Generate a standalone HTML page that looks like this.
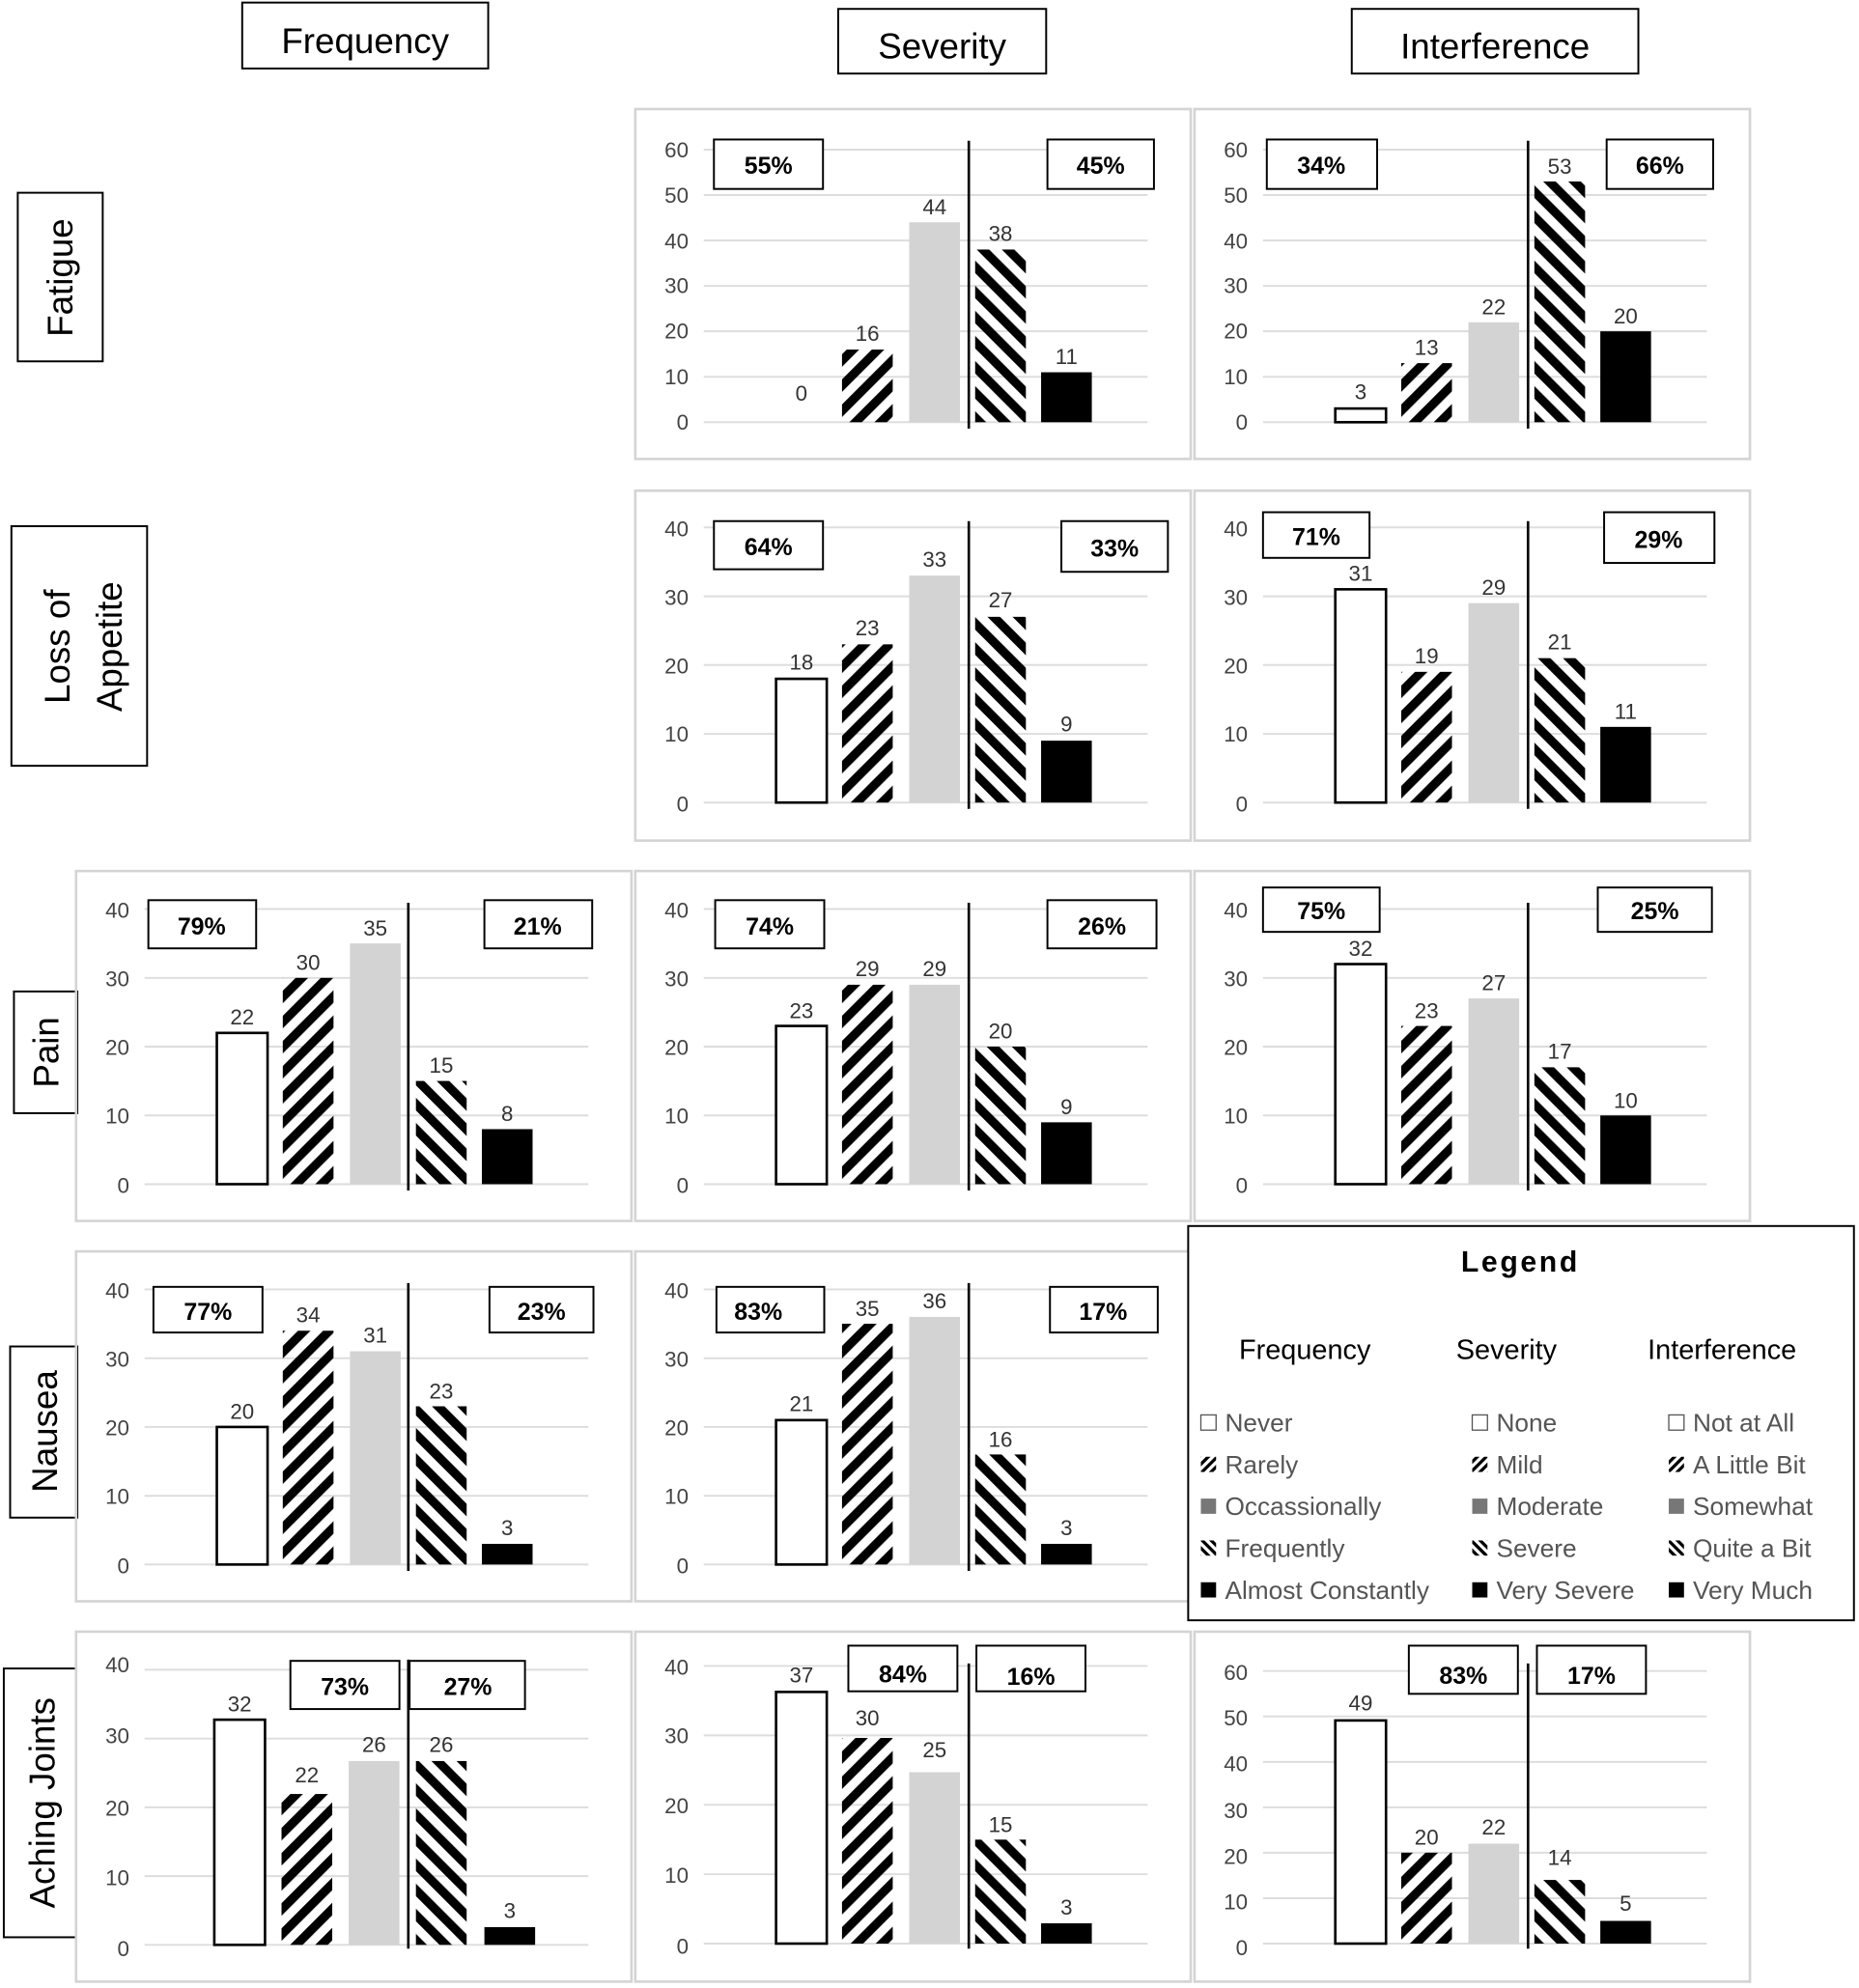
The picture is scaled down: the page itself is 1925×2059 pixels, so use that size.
<!DOCTYPE html>
<html><head><meta charset="utf-8"><style>
html,body{margin:0;padding:0;background:#fff}
svg{display:block}
text{font-family:"Liberation Sans","DejaVu Sans",sans-serif}
.t{font-size:17px;fill:#444}
.l{font-size:17px;fill:#333;text-anchor:middle}
.p{font-size:19px;font-weight:bold;text-anchor:middle;fill:#000}
.lg{font-size:20px;fill:#555}
.h{font-size:28px;text-anchor:middle;fill:#000}
</style></head><body>
<svg width="1925" height="2059" viewBox="0 0 1466 1568" xmlns="http://www.w3.org/2000/svg">
<defs>
<pattern id="fw" width="14" height="14" patternUnits="userSpaceOnUse" patternTransform="rotate(45)"><rect width="7" height="14" fill="#000"/></pattern>
<pattern id="bk" width="14" height="14" patternUnits="userSpaceOnUse" patternTransform="rotate(-45)"><rect width="7" height="14" fill="#000"/></pattern>
<pattern id="fws" width="5" height="5" patternUnits="userSpaceOnUse" patternTransform="rotate(45)"><rect width="2.5" height="5" fill="#000"/></pattern>
<pattern id="bks" width="5" height="5" patternUnits="userSpaceOnUse" patternTransform="rotate(-45)"><rect width="2.5" height="5" fill="#000"/></pattern>
</defs>
<rect width="1466" height="1568" fill="#fff"/>

<!-- headers -->
<rect x="191" y="2" width="194" height="52" fill="none" stroke="#000" stroke-width="1.5"/><text class="h" x="288" y="42">Frequency</text>
<rect x="661" y="7" width="164" height="51" fill="none" stroke="#000" stroke-width="1.5"/><text class="h" x="743" y="46">Severity</text>
<rect x="1066" y="7" width="226" height="51" fill="none" stroke="#000" stroke-width="1.5"/><text class="h" x="1179" y="46">Interference</text>

<!-- row labels -->
<rect x="14" y="152" width="67" height="133" fill="none" stroke="#000" stroke-width="1.5"/><text class="h" transform="translate(57,219) rotate(-90)">Fatigue</text>
<rect x="9" y="415" width="107" height="189" fill="none" stroke="#000" stroke-width="1.5"/><text class="h" transform="translate(55,510) rotate(-90)">Loss of</text><text class="h" transform="translate(96,510) rotate(-90)">Appetite</text>
<rect x="11" y="782" width="50" height="96" fill="none" stroke="#000" stroke-width="1.5"/><text class="h" transform="translate(46,830) rotate(-90)">Pain</text>
<rect x="8" y="1062" width="53" height="135" fill="none" stroke="#000" stroke-width="1.5"/><text class="h" transform="translate(45,1129) rotate(-90)">Nausea</text>
<rect x="3" y="1316" width="57" height="212" fill="none" stroke="#000" stroke-width="1.5"/><text class="h" transform="translate(43,1422) rotate(-90)">Aching Joints</text>

<!-- PANEL TEMPLATE: scale60 k=3.583, scale40 k=5.425 -->
<!-- Row1 col2 Severity Fatigue -->
<g transform="translate(501,86)">
<rect x="0" y="0" width="438" height="276" fill="none" stroke="#d4d4d4" stroke-width="2"/>
<g stroke="#ddd" stroke-width="1.5"><line x1="54" x2="404" y1="247" y2="247"/><line x1="54" x2="404" y1="211.2" y2="211.2"/><line x1="54" x2="404" y1="175.3" y2="175.3"/><line x1="54" x2="404" y1="139.5" y2="139.5"/><line x1="54" x2="404" y1="103.7" y2="103.7"/><line x1="54" x2="404" y1="67.8" y2="67.8"/><line x1="54" x2="404" y1="32" y2="32"/></g>
<g class="t" text-anchor="end"><text x="42" y="253">0</text><text x="42" y="217">10</text><text x="42" y="181">20</text><text x="42" y="145">30</text><text x="42" y="110">40</text><text x="42" y="74">50</text><text x="42" y="38">60</text></g>
<rect x="163" y="189.7" width="40" height="57.3" fill="url(#fw)"/>
<rect x="216" y="89.3" width="40" height="157.7" fill="#d3d3d3"/>
<rect x="268" y="110.8" width="40" height="136.2" fill="url(#bk)"/>
<rect x="320" y="207.6" width="40" height="39.4" fill="#000"/>
<g class="l"><text x="131" y="230">0</text><text x="183" y="183">16</text><text x="236" y="83">44</text><text x="288" y="104">38</text><text x="340" y="201">11</text></g>
<line x1="263" x2="263" y1="25" y2="252" stroke="#000" stroke-width="2"/>
<rect x="62" y="24" width="86" height="39" fill="#fff" stroke="#000" stroke-width="1.5"/><text class="p" x="105" y="51">55%</text>
<rect x="325" y="24" width="84" height="39" fill="#fff" stroke="#000" stroke-width="1.5"/><text class="p" x="367" y="51">45%</text>
</g>

<!-- Row1 col3 Interference Fatigue -->
<g transform="translate(942,86)">
<rect x="0" y="0" width="438" height="276" fill="none" stroke="#d4d4d4" stroke-width="2"/>
<g stroke="#ddd" stroke-width="1.5"><line x1="54" x2="404" y1="247" y2="247"/><line x1="54" x2="404" y1="211.2" y2="211.2"/><line x1="54" x2="404" y1="175.3" y2="175.3"/><line x1="54" x2="404" y1="139.5" y2="139.5"/><line x1="54" x2="404" y1="103.7" y2="103.7"/><line x1="54" x2="404" y1="67.8" y2="67.8"/><line x1="54" x2="404" y1="32" y2="32"/></g>
<g class="t" text-anchor="end"><text x="42" y="253">0</text><text x="42" y="217">10</text><text x="42" y="181">20</text><text x="42" y="145">30</text><text x="42" y="110">40</text><text x="42" y="74">50</text><text x="42" y="38">60</text></g>
<rect x="111" y="236.2" width="40" height="10.8" fill="#fff" stroke="#000" stroke-width="2"/>
<rect x="163" y="200.4" width="40" height="46.6" fill="url(#fw)"/>
<rect x="216" y="168.2" width="40" height="78.8" fill="#d3d3d3"/>
<rect x="268" y="57.1" width="40" height="189.9" fill="url(#bk)"/>
<rect x="320" y="175.3" width="40" height="71.7" fill="#000"/>
<g class="l"><text x="131" y="229">3</text><text x="183" y="194">13</text><text x="236" y="162">22</text><text x="288" y="51">53</text><text x="340" y="169">20</text></g>
<line x1="263" x2="263" y1="25" y2="252" stroke="#000" stroke-width="2"/>
<rect x="57" y="24" width="87" height="39" fill="#fff" stroke="#000" stroke-width="1.5"/><text class="p" x="100" y="51">34%</text>
<rect x="325" y="24" width="84" height="39" fill="#fff" stroke="#000" stroke-width="1.5"/><text class="p" x="367" y="51">66%</text>
</g>

<!-- 40-scale grid snippet used below: y 247,192.75,138.5,84.25,30 -->
<!-- Row2 col2 -->
<g transform="translate(501,387)">
<rect x="0" y="0" width="438" height="276" fill="none" stroke="#d4d4d4" stroke-width="2"/>
<g stroke="#ddd" stroke-width="1.5"><line x1="54" x2="404" y1="246" y2="246"/><line x1="54" x2="404" y1="191.8" y2="191.8"/><line x1="54" x2="404" y1="137.5" y2="137.5"/><line x1="54" x2="404" y1="83.3" y2="83.3"/><line x1="54" x2="404" y1="29" y2="29"/></g>
<g class="t" text-anchor="end"><text x="42" y="253">0</text><text x="42" y="198">10</text><text x="42" y="144">20</text><text x="42" y="90">30</text><text x="42" y="36">40</text></g>
<rect x="111" y="148.4" width="40" height="97.6" fill="#fff" stroke="#000" stroke-width="2"/>
<rect x="163" y="121.2" width="40" height="124.8" fill="url(#fw)"/>
<rect x="216" y="67" width="40" height="179" fill="#d3d3d3"/>
<rect x="268" y="99.5" width="40" height="146.5" fill="url(#bk)"/>
<rect x="320" y="197.2" width="40" height="48.8" fill="#000"/>
<g class="l"><text x="131" y="141">18</text><text x="183" y="114">23</text><text x="236" y="60">33</text><text x="288" y="92">27</text><text x="340" y="190">9</text></g>
<line x1="263" x2="263" y1="24" y2="251" stroke="#000" stroke-width="2"/>
<rect x="62" y="24" width="86" height="38" fill="#fff" stroke="#000" stroke-width="1.5"/><text class="p" x="105" y="51">64%</text>
<rect x="336" y="24" width="84" height="40" fill="#fff" stroke="#000" stroke-width="1.5"/><text class="p" x="378" y="52">33%</text>
</g>

<!-- Row2 col3 -->
<g transform="translate(942,387)">
<rect x="0" y="0" width="438" height="276" fill="none" stroke="#d4d4d4" stroke-width="2"/>
<g stroke="#ddd" stroke-width="1.5"><line x1="54" x2="404" y1="246" y2="246"/><line x1="54" x2="404" y1="191.8" y2="191.8"/><line x1="54" x2="404" y1="137.5" y2="137.5"/><line x1="54" x2="404" y1="83.3" y2="83.3"/><line x1="54" x2="404" y1="29" y2="29"/></g>
<g class="t" text-anchor="end"><text x="42" y="253">0</text><text x="42" y="198">10</text><text x="42" y="144">20</text><text x="42" y="90">30</text><text x="42" y="36">40</text></g>
<rect x="111" y="77.8" width="40" height="168.2" fill="#fff" stroke="#000" stroke-width="2"/>
<rect x="163" y="142.9" width="40" height="103.1" fill="url(#fw)"/>
<rect x="216" y="88.7" width="40" height="157.3" fill="#d3d3d3"/>
<rect x="268" y="132.1" width="40" height="113.9" fill="url(#bk)"/>
<rect x="320" y="186.3" width="40" height="59.7" fill="#000"/>
<g class="l"><text x="131" y="71">31</text><text x="183" y="136">19</text><text x="236" y="82">29</text><text x="288" y="125">21</text><text x="340" y="180">11</text></g>
<line x1="263" x2="263" y1="24" y2="251" stroke="#000" stroke-width="2"/>
<rect x="54" y="17" width="84" height="36" fill="#fff" stroke="#000" stroke-width="1.5"/><text class="p" x="96" y="43">71%</text>
<rect x="323" y="17" width="87" height="40" fill="#fff" stroke="#000" stroke-width="1.5"/><text class="p" x="366" y="45">29%</text>
</g>

<!-- Row3 col1 Pain freq -->
<g transform="translate(60,687)">
<rect x="0" y="0" width="438" height="276" fill="none" stroke="#d4d4d4" stroke-width="2"/>
<g stroke="#ddd" stroke-width="1.5"><line x1="54" x2="404" y1="247" y2="247"/><line x1="54" x2="404" y1="192.8" y2="192.8"/><line x1="54" x2="404" y1="138.5" y2="138.5"/><line x1="54" x2="404" y1="84.3" y2="84.3"/><line x1="54" x2="404" y1="30" y2="30"/></g>
<g class="t" text-anchor="end"><text x="42" y="254">0</text><text x="42" y="199">10</text><text x="42" y="145">20</text><text x="42" y="91">30</text><text x="42" y="37">40</text></g>
<rect x="111" y="127.7" width="40" height="119.3" fill="#fff" stroke="#000" stroke-width="2"/>
<rect x="163" y="84.3" width="40" height="162.7" fill="url(#fw)"/>
<rect x="216" y="57.1" width="40" height="189.9" fill="#d3d3d3"/>
<rect x="268" y="165.6" width="40" height="81.4" fill="url(#bk)"/>
<rect x="320" y="203.6" width="40" height="43.4" fill="#000"/>
<g class="l"><text x="131" y="121">22</text><text x="183" y="78">30</text><text x="236" y="51">35</text><text x="288" y="159">15</text><text x="340" y="197">8</text></g>
<line x1="262" x2="262" y1="25" y2="252" stroke="#000" stroke-width="2"/>
<rect x="57" y="23" width="85" height="38" fill="#fff" stroke="#000" stroke-width="1.5"/><text class="p" x="99" y="50">79%</text>
<rect x="322" y="23" width="85" height="38" fill="#fff" stroke="#000" stroke-width="1.5"/><text class="p" x="364" y="50">21%</text>
</g>

<!-- Row3 col2 -->
<g transform="translate(501,687)">
<rect x="0" y="0" width="438" height="276" fill="none" stroke="#d4d4d4" stroke-width="2"/>
<g stroke="#ddd" stroke-width="1.5"><line x1="54" x2="404" y1="247" y2="247"/><line x1="54" x2="404" y1="192.8" y2="192.8"/><line x1="54" x2="404" y1="138.5" y2="138.5"/><line x1="54" x2="404" y1="84.3" y2="84.3"/><line x1="54" x2="404" y1="30" y2="30"/></g>
<g class="t" text-anchor="end"><text x="42" y="254">0</text><text x="42" y="199">10</text><text x="42" y="145">20</text><text x="42" y="91">30</text><text x="42" y="37">40</text></g>
<rect x="111" y="122.2" width="40" height="124.8" fill="#fff" stroke="#000" stroke-width="2"/>
<rect x="163" y="89.7" width="40" height="157.3" fill="url(#fw)"/>
<rect x="216" y="89.7" width="40" height="157.3" fill="#d3d3d3"/>
<rect x="268" y="138.5" width="40" height="108.5" fill="url(#bk)"/>
<rect x="320" y="198.2" width="40" height="48.8" fill="#000"/>
<g class="l"><text x="131" y="116">23</text><text x="183" y="83">29</text><text x="236" y="83">29</text><text x="288" y="132">20</text><text x="340" y="192">9</text></g>
<line x1="263" x2="263" y1="25" y2="252" stroke="#000" stroke-width="2"/>
<rect x="63" y="23" width="86" height="38" fill="#fff" stroke="#000" stroke-width="1.5"/><text class="p" x="106" y="50">74%</text>
<rect x="325" y="23" width="86" height="38" fill="#fff" stroke="#000" stroke-width="1.5"/><text class="p" x="368" y="50">26%</text>
</g>

<!-- Row3 col3 -->
<g transform="translate(942,687)">
<rect x="0" y="0" width="438" height="276" fill="none" stroke="#d4d4d4" stroke-width="2"/>
<g stroke="#ddd" stroke-width="1.5"><line x1="54" x2="404" y1="247" y2="247"/><line x1="54" x2="404" y1="192.8" y2="192.8"/><line x1="54" x2="404" y1="138.5" y2="138.5"/><line x1="54" x2="404" y1="84.3" y2="84.3"/><line x1="54" x2="404" y1="30" y2="30"/></g>
<g class="t" text-anchor="end"><text x="42" y="254">0</text><text x="42" y="199">10</text><text x="42" y="145">20</text><text x="42" y="91">30</text><text x="42" y="37">40</text></g>
<rect x="111" y="73.4" width="40" height="173.6" fill="#fff" stroke="#000" stroke-width="2"/>
<rect x="163" y="122.2" width="40" height="124.8" fill="url(#fw)"/>
<rect x="216" y="100.5" width="40" height="146.5" fill="#d3d3d3"/>
<rect x="268" y="154.8" width="40" height="92.2" fill="url(#bk)"/>
<rect x="320" y="192.8" width="40" height="54.2" fill="#000"/>
<g class="l"><text x="131" y="67">32</text><text x="183" y="116">23</text><text x="236" y="94">27</text><text x="288" y="148">17</text><text x="340" y="187">10</text></g>
<line x1="263" x2="263" y1="25" y2="252" stroke="#000" stroke-width="2"/>
<rect x="54" y="13" width="92" height="35" fill="#fff" stroke="#000" stroke-width="1.5"/><text class="p" x="100" y="38">75%</text>
<rect x="318" y="13" width="90" height="35" fill="#fff" stroke="#000" stroke-width="1.5"/><text class="p" x="363" y="38">25%</text>
</g>

<!-- Row4 col1 Nausea freq -->
<g transform="translate(60,987)">
<rect x="0" y="0" width="438" height="276" fill="none" stroke="#d4d4d4" stroke-width="2"/>
<g stroke="#ddd" stroke-width="1.5"><line x1="54" x2="404" y1="247" y2="247"/><line x1="54" x2="404" y1="192.8" y2="192.8"/><line x1="54" x2="404" y1="138.5" y2="138.5"/><line x1="54" x2="404" y1="84.3" y2="84.3"/><line x1="54" x2="404" y1="30" y2="30"/></g>
<g class="t" text-anchor="end"><text x="42" y="254">0</text><text x="42" y="199">10</text><text x="42" y="145">20</text><text x="42" y="91">30</text><text x="42" y="37">40</text></g>
<rect x="111" y="138.5" width="40" height="108.5" fill="#fff" stroke="#000" stroke-width="2"/>
<rect x="163" y="62.6" width="40" height="184.4" fill="url(#fw)"/>
<rect x="216" y="78.8" width="40" height="168.2" fill="#d3d3d3"/>
<rect x="268" y="122.2" width="40" height="124.8" fill="url(#bk)"/>
<rect x="320" y="230.7" width="40" height="16.3" fill="#000"/>
<g class="l"><text x="131" y="132">20</text><text x="183" y="56">34</text><text x="236" y="72">31</text><text x="288" y="116">23</text><text x="340" y="224">3</text></g>
<line x1="262" x2="262" y1="25" y2="252" stroke="#000" stroke-width="2"/>
<rect x="61" y="28" width="86" height="36" fill="#fff" stroke="#000" stroke-width="1.5"/><text class="p" x="104" y="54">77%</text>
<rect x="326" y="28" width="82" height="36" fill="#fff" stroke="#000" stroke-width="1.5"/><text class="p" x="367" y="54">23%</text>
</g>

<!-- Row4 col2 -->
<g transform="translate(501,987)">
<rect x="0" y="0" width="438" height="276" fill="none" stroke="#d4d4d4" stroke-width="2"/>
<g stroke="#ddd" stroke-width="1.5"><line x1="54" x2="404" y1="247" y2="247"/><line x1="54" x2="404" y1="192.8" y2="192.8"/><line x1="54" x2="404" y1="138.5" y2="138.5"/><line x1="54" x2="404" y1="84.3" y2="84.3"/><line x1="54" x2="404" y1="30" y2="30"/></g>
<g class="t" text-anchor="end"><text x="42" y="254">0</text><text x="42" y="199">10</text><text x="42" y="145">20</text><text x="42" y="91">30</text><text x="42" y="37">40</text></g>
<rect x="111" y="133.1" width="40" height="113.9" fill="#fff" stroke="#000" stroke-width="2"/>
<rect x="163" y="57.1" width="40" height="189.9" fill="url(#fw)"/>
<rect x="216" y="51.7" width="40" height="195.3" fill="#d3d3d3"/>
<rect x="268" y="160.2" width="40" height="86.8" fill="url(#bk)"/>
<rect x="320" y="230.7" width="40" height="16.3" fill="#000"/>
<g class="l"><text x="131" y="126">21</text><text x="183" y="51">35</text><text x="236" y="45">36</text><text x="288" y="154">16</text><text x="340" y="224">3</text></g>
<line x1="263" x2="263" y1="25" y2="252" stroke="#000" stroke-width="2"/>
<rect x="64" y="28" width="85" height="36" fill="#fff" stroke="#000" stroke-width="1.5"/><text class="p" x="97" y="54">83%</text>
<rect x="327" y="28" width="85" height="36" fill="#fff" stroke="#000" stroke-width="1.5"/><text class="p" x="369" y="54">17%</text>
</g>

<!-- Row5 col1 Aching freq -->
<g transform="translate(60,1287)">
<rect x="0" y="0" width="438" height="276" fill="none" stroke="#d4d4d4" stroke-width="2"/>
<g stroke="#ddd" stroke-width="1.5"><line x1="54" x2="404" y1="247" y2="247"/><line x1="54" x2="404" y1="192.8" y2="192.8"/><line x1="54" x2="404" y1="138.5" y2="138.5"/><line x1="54" x2="404" y1="84.3" y2="84.3"/><line x1="54" x2="404" y1="30" y2="30"/></g>
<g class="t" text-anchor="end"><text x="42" y="256">0</text><text x="42" y="200">10</text><text x="42" y="145">20</text><text x="42" y="88">30</text><text x="42" y="32">40</text></g>
<rect x="109" y="69.4" width="40" height="177.6" fill="#fff" stroke="#000" stroke-width="2"/>
<rect x="162" y="128" width="40" height="119" fill="url(#fw)"/>
<rect x="215" y="102" width="40" height="145" fill="#d3d3d3"/>
<rect x="268" y="102" width="40" height="145" fill="url(#bk)"/>
<rect x="322" y="233" width="40" height="14" fill="#000"/>
<g class="l"><text x="129" y="63">32</text><text x="182" y="119">22</text><text x="235" y="95">26</text><text x="288" y="95">26</text><text x="342" y="226">3</text></g>
<line x1="262" x2="262" y1="22" y2="250" stroke="#000" stroke-width="2"/>
<rect x="169" y="23" width="86" height="38" fill="#fff" stroke="#000" stroke-width="1.5"/><text class="p" x="212" y="50">73%</text>
<rect x="263" y="23" width="91" height="38" fill="#fff" stroke="#000" stroke-width="1.5"/><text class="p" x="309" y="50">27%</text>
</g>

<!-- Row5 col2 -->
<g transform="translate(501,1287)">
<rect x="0" y="0" width="438" height="276" fill="none" stroke="#d4d4d4" stroke-width="2"/>
<g stroke="#ddd" stroke-width="1.5"><line x1="54" x2="404" y1="246" y2="246"/><line x1="54" x2="404" y1="191.3" y2="191.3"/><line x1="54" x2="404" y1="136.5" y2="136.5"/><line x1="54" x2="404" y1="81.8" y2="81.8"/><line x1="54" x2="404" y1="27" y2="27"/></g>
<g class="t" text-anchor="end"><text x="42" y="254">0</text><text x="42" y="198">10</text><text x="42" y="143">20</text><text x="42" y="88">30</text><text x="42" y="34">40</text></g>
<rect x="111" y="47.5" width="40" height="198.5" fill="#fff" stroke="#000" stroke-width="2"/>
<rect x="163" y="83.8" width="40" height="162.2" fill="url(#fw)"/>
<rect x="216" y="110.8" width="40" height="135.2" fill="#d3d3d3"/>
<rect x="268" y="164" width="40" height="82" fill="url(#bk)"/>
<rect x="320" y="230" width="40" height="16" fill="#000"/>
<g class="l"><text x="131" y="40">37</text><text x="183" y="74">30</text><text x="236" y="99">25</text><text x="288" y="158">15</text><text x="340" y="223">3</text></g>
<line x1="263" x2="263" y1="25" y2="250" stroke="#000" stroke-width="2"/>
<rect x="168" y="11" width="86" height="36" fill="#fff" stroke="#000" stroke-width="1.5"/><text class="p" x="211" y="40">84%</text>
<rect x="269" y="11" width="86" height="36" fill="#fff" stroke="#000" stroke-width="1.5"/><text class="p" x="312" y="42">16%</text>
</g>

<!-- Row5 col3 -->
<g transform="translate(942,1287)">
<rect x="0" y="0" width="438" height="276" fill="none" stroke="#d4d4d4" stroke-width="2"/>
<g stroke="#ddd" stroke-width="1.5"><line x1="54" x2="404" y1="246" y2="246"/><line x1="54" x2="404" y1="210.2" y2="210.2"/><line x1="54" x2="404" y1="174.3" y2="174.3"/><line x1="54" x2="404" y1="138.5" y2="138.5"/><line x1="54" x2="404" y1="102.7" y2="102.7"/><line x1="54" x2="404" y1="66.8" y2="66.8"/><line x1="54" x2="404" y1="31" y2="31"/></g>
<g class="t" text-anchor="end"><text x="42" y="255">0</text><text x="42" y="219">10</text><text x="42" y="183">20</text><text x="42" y="147">30</text><text x="42" y="110">40</text><text x="42" y="74">50</text><text x="42" y="38">60</text></g>
<rect x="111" y="70" width="40" height="176" fill="#fff" stroke="#000" stroke-width="2"/>
<rect x="163" y="174.3" width="40" height="71.7" fill="url(#fw)"/>
<rect x="216" y="167.2" width="40" height="78.8" fill="#d3d3d3"/>
<rect x="268" y="195.8" width="40" height="50.2" fill="url(#bk)"/>
<rect x="320" y="228.1" width="40" height="17.9" fill="#000"/>
<g class="l"><text x="131" y="62">49</text><text x="183" y="168">20</text><text x="236" y="160">22</text><text x="288" y="184">14</text><text x="340" y="220">5</text></g>
<line x1="263" x2="263" y1="25" y2="250" stroke="#000" stroke-width="2"/>
<rect x="169" y="11" width="86" height="38" fill="#fff" stroke="#000" stroke-width="1.5"/><text class="p" x="212" y="41">83%</text>
<rect x="270" y="11" width="86" height="38" fill="#fff" stroke="#000" stroke-width="1.5"/><text class="p" x="313" y="41">17%</text>
</g>

<!-- Legend -->
<g>
<rect x="937" y="967" width="525" height="311" fill="#fff" stroke="#000" stroke-width="1.5"/>
<text x="1199" y="1003" text-anchor="middle" style="font-size:23px;font-weight:bold;letter-spacing:2px">Legend</text>
<g style="font-size:22px;fill:#000" text-anchor="middle"><text x="1029" y="1072">Frequency</text><text x="1188" y="1072">Severity</text><text x="1358" y="1072">Interference</text></g>
<g class="lg">
<text x="966" y="1129">Never</text><text x="966" y="1162">Rarely</text><text x="966" y="1195">Occassionally</text><text x="966" y="1228">Frequently</text><text x="966" y="1261">Almost Constantly</text>
<text x="1180" y="1129">None</text><text x="1180" y="1162">Mild</text><text x="1180" y="1195">Moderate</text><text x="1180" y="1228">Severe</text><text x="1180" y="1261">Very Severe</text>
<text x="1335" y="1129">Not at All</text><text x="1335" y="1162">A Little Bit</text><text x="1335" y="1195">Somewhat</text><text x="1335" y="1228">Quite a Bit</text><text x="1335" y="1261">Very Much</text>
</g>
<g>
<rect x="947" y="1116" width="12" height="12" fill="#fff" stroke="#555"/><rect x="947" y="1149" width="12" height="12" fill="url(#fws)"/><rect x="947" y="1182" width="12" height="12" fill="#777"/><rect x="947" y="1215" width="12" height="12" fill="url(#bks)"/><rect x="947" y="1248" width="12" height="12" fill="#000"/>
<rect x="1161" y="1116" width="12" height="12" fill="#fff" stroke="#555"/><rect x="1161" y="1149" width="12" height="12" fill="url(#fws)"/><rect x="1161" y="1182" width="12" height="12" fill="#777"/><rect x="1161" y="1215" width="12" height="12" fill="url(#bks)"/><rect x="1161" y="1248" width="12" height="12" fill="#000"/>
<rect x="1316" y="1116" width="12" height="12" fill="#fff" stroke="#555"/><rect x="1316" y="1149" width="12" height="12" fill="url(#fws)"/><rect x="1316" y="1182" width="12" height="12" fill="#777"/><rect x="1316" y="1215" width="12" height="12" fill="url(#bks)"/><rect x="1316" y="1248" width="12" height="12" fill="#000"/>
</g>
</g>
</svg>
</body></html>
